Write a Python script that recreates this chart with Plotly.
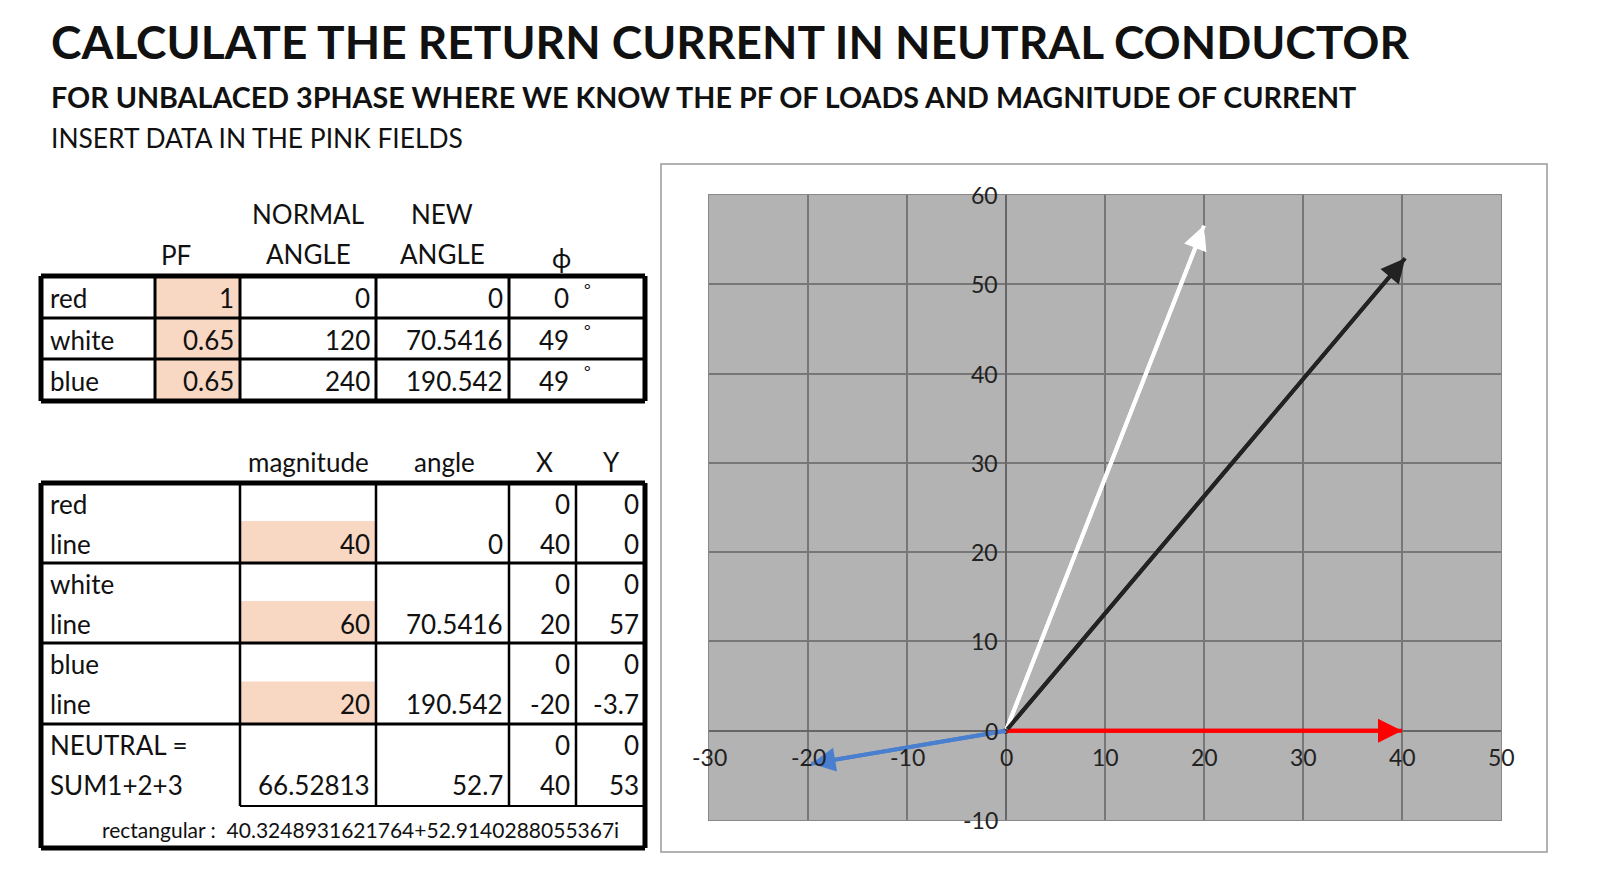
import plotly.graph_objects as go

W, H = 1600, 895
FONT = "Lato"
OFF = 8

# ---- data ----
phases = ["red", "white", "blue"]
pf = ["1", "0.65", "0.65"]
normal_angle = ["0", "120", "240"]
new_angle = ["0", "70.5416", "190.542"]
phi = ["0", "49", "49"]

magnitude = ["40", "60", "20", "66.52813"]
angle_txt = ["0", "70.5416", "190.542", "52.7"]
x_txt = ["40", "20", "-20", "40"]
y_txt = ["0", "57", "-3.7", "53"]
row_labels = [("red", "line"), ("white", "line"), ("blue", "line"), ("NEUTRAL =", "SUM1+2+3")]
rect_text = "rectangular :  40.3248931621764+52.9140288055367i"

vec_x = [40.0, 20.0, -19.66, 40.32]
vec_y = [0.0, 56.57, -3.69, 52.91]
vec_colors = ["#ff0000", "#ffffff", "#4a7fcf", "#222222"]

x_ticks = [-30, -20, -10, 0, 10, 20, 30, 40, 50]
y_ticks = [-10, 0, 10, 20, 30, 40, 50, 60]

def px(x): return (x - OFF) / W
def py(y): return 1 - (y - OFF) / H

fig = go.Figure()
ann = []
shapes = []

def text(x, y, s, size=26, anchor="left", bold=False, color="#111"):
    ann.append(dict(x=px(x), y=py(y), xref="paper", yref="paper", text=f"<b>{s}</b>" if bold else s,
                    showarrow=False, xanchor=anchor, yanchor="middle",
                    font=dict(family=FONT, size=size, color=color)))

def rect(x0, y0, x1, y1, fill):
    shapes.append(dict(type="rect", xref="paper", yref="paper", x0=px(x0), x1=px(x1), y0=py(y1), y1=py(y0),
                       fillcolor=fill, line=dict(width=0), layer="below"))

def line(x0, y0, x1, y1, w):
    shapes.append(dict(type="line", xref="paper", yref="paper", x0=px(x0), x1=px(x1), y0=py(y0), y1=py(y1),
                       line=dict(color="black", width=w)))

# titles
text(49, 41, "CALCULATE THE RETURN CURRENT IN NEUTRAL CONDUCTOR", size=46, bold=True)
text(49, 97, "FOR UNBALACED 3PHASE WHERE WE KNOW THE PF OF LOADS AND MAGNITUDE OF CURRENT", size=28.7, bold=True)
text(49, 138, "INSERT DATA IN THE PINK FIELDS", size=26.4)

PINK = "#f8d8c3"
# ---- table 1 ----
t1x = [41, 155, 240, 376, 509, 645]
t1y = [276, 318, 359, 401]
text(176, 255, "PF", anchor="center")
text(308, 214, "NORMAL", anchor="center"); text(308, 254, "ANGLE", anchor="center")
text(442, 214, "NEW", anchor="center"); text(442, 254, "ANGLE", anchor="center")
text(561, 258, "ϕ", anchor="center")
for i in range(3):
    rect(t1x[1], t1y[i], t1x[2], t1y[i + 1], PINK)
    yc = (t1y[i] + t1y[i + 1]) / 2 + 1
    text(48, yc, phases[i])
    text(t1x[2] - 4, yc, pf[i], anchor="right")
    text(t1x[3] - 4, yc, normal_angle[i], anchor="right")
    text(t1x[4] - 4, yc, new_angle[i], anchor="right")
    text(571, yc, phi[i], anchor="right")
    text(587, yc - 10, "°", size=16, anchor="center")
for y in t1y:
    line(t1x[0], y, t1x[-1], y, 3 if y not in (t1y[0], t1y[-1]) else 5)
for x in t1x:
    line(x, t1y[0], x, t1y[-1], 3 if x not in (t1x[0], t1x[-1]) else 5)

# ---- table 2 ----
t2x = [41, 240, 376, 509, 576, 645]
g = [483, 563, 643, 724, 806]
text(308, 462, "magnitude", anchor="center")
text(444, 462, "angle", anchor="center")
text(544, 462, "X", anchor="center")
text(611, 462, "Y", anchor="center")
for i in range(4):
    top, bot = g[i], g[i + 1]
    mid = (top + bot) / 2
    if i < 3:
        rect(t2x[1], mid - 2, t2x[2], bot, PINK)
    y1, y2 = top + 21, top + 61
    text(48, y1, row_labels[i][0]); text(48, y2, row_labels[i][1])
    text(t2x[2] - 4, y2, magnitude[i], anchor="right")
    text(t2x[3] - 4, y2, angle_txt[i], anchor="right")
    text(t2x[4] - 4, y1, "0", anchor="right"); text(t2x[4] - 4, y2, x_txt[i], anchor="right")
    text(t2x[5] - 4, y1, "0", anchor="right"); text(t2x[5] - 4, y2, y_txt[i], anchor="right")
text(360, 829, rect_text, size=21, anchor="center")
bottom2 = 848
line(t2x[0], g[0], t2x[-1], g[0], 5)
for y in g[1:4]:
    line(t2x[0], y, t2x[-1], y, 3)
line(t2x[1], g[4], t2x[-1], g[4], 2)
line(t2x[0], bottom2, t2x[-1], bottom2, 5)
line(t2x[0], g[0], t2x[0], bottom2, 5)
line(t2x[-1], g[0], t2x[-1], bottom2, 5)
for x in t2x[1:-1]:
    line(x, g[0], x, g[4], 2.5)

# ---- chart ----
shapes.append(dict(type="rect", xref="paper", yref="paper", x0=px(661), x1=px(1547), y0=py(852), y1=py(164),
                   line=dict(color="#999", width=1.5), fillcolor="rgba(0,0,0,0)", layer="below"))
fig.add_trace(go.Scatter(x=[0], y=[0], mode="markers", marker=dict(size=6, color="#222"), hoverinfo="skip"))
for xv, yv, c in zip(vec_x, vec_y, vec_colors):
    fig.add_trace(go.Scatter(x=[0, xv], y=[0, yv], mode="lines", line=dict(color=c, width=4), hoverinfo="skip"))
    ann.append(dict(x=xv, y=yv, ax=0, ay=0, xref="x", yref="y", axref="x", ayref="y", text="",
                    showarrow=True, arrowhead=2, arrowsize=1.2, arrowwidth=4, arrowcolor=c, standoff=0))
for t in x_ticks:
    ann.append(dict(x=t, y=-2.9, xref="x", yref="y", text=str(t), showarrow=False,
                    font=dict(family=FONT, size=23, color="#222")))
for t in y_ticks:
    ann.append(dict(x=-0.6, y=t, xref="x", yref="y", text=str(t), showarrow=False, xanchor="right",
                    font=dict(family=FONT, size=23, color="#222")))

fig.update_layout(
    width=W, height=H, margin=dict(l=0, r=0, t=0, b=0), showlegend=False,
    paper_bgcolor="white", plot_bgcolor="#b3b3b3",
    annotations=ann, shapes=shapes,
    xaxis=dict(domain=[px(709), px(1501)], range=[-30, 50], dtick=10, showticklabels=False,
               gridcolor="#777", gridwidth=2, zeroline=True, zerolinecolor="#666", zerolinewidth=2,
               showline=True, linecolor="#888", mirror=True, fixedrange=True),
    yaxis=dict(domain=[py(820), py(195)], range=[-10, 60], dtick=10, showticklabels=False,
               gridcolor="#777", gridwidth=2, zeroline=True, zerolinecolor="#666", zerolinewidth=2,
               showline=True, linecolor="#888", mirror=True, fixedrange=True),
)
fig.write_html("out.html")
